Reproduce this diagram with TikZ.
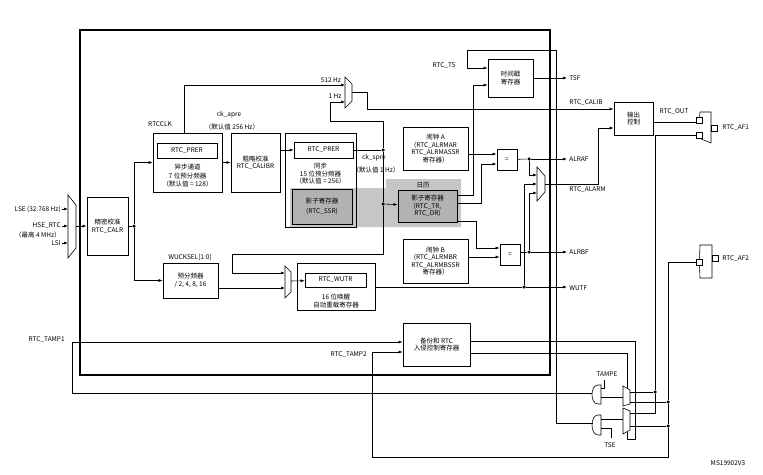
\documentclass[tikz,border=0pt]{standalone}
\usepackage{fontspec}
\setmainfont{Noto Sans CJK SC}
\usetikzlibrary{arrows.meta}

\tikzset{
  box/.style={draw=black, thick, fill=white, align=center, inner sep=0pt},
  inbox/.style={draw=black, fill=white, inner sep=0pt},
  shade/.style={draw=black, thick, fill=gray!60, align=center, inner sep=0pt},
  lbl/.style={font=\fontsize{6.5}{7.5}\selectfont, inner sep=1pt},
  arr/.style={-{Latex[length=4pt,width=3pt]}},
  jn/.style={circle, fill=black, inner sep=0pt, minimum size=3.5pt},
  pad/.style={draw=black, fill=white, minimum size=6pt, inner sep=0pt}
}

\begin{document}
\begin{tikzpicture}[x=1pt, y=-1pt, font=\fontsize{6.5}{7.5}\selectfont, every path/.style={line width=0.6pt}]
  \useasboundingbox (0,0) rectangle (763,474);
  % shaded band
  \fill[gray!45] (290,188) -- (386,188) -- (386,179) -- (461,179) -- (461,227) -- (290,227) -- cycle;
  \draw[line width=1.6pt] (80,30) rectangle (550,375);

  % boxes
  \node[box, minimum width=41pt, minimum height=58pt] (calr) at (107.5,226) {精密校准\\RTC\_CALR};
  \node[box, minimum width=69pt, minimum height=59pt] (async) at (187.5,162.5) {};
  \node[inbox, minimum width=60pt, minimum height=15pt] (prera) at (187,150.5) {RTC\_PRER};
  \node[lbl, align=center] at (187.5,176) {异步通道\\[1pt]7 位预分频器\\[1pt]（默认值 = 128）};
  \node[box, minimum width=49pt, minimum height=59pt] (calibr) at (255.5,162.5) {粗略校准\\RTC\_CALIBR};
  \node[box, fill=none, minimum width=71pt, minimum height=94pt] (sync) at (320.5,180) {};
  \node[inbox, minimum width=59pt, minimum height=16pt] (prers) at (323.5,150) {RTC\_PRER};
  \node[lbl, align=center] at (320.5,174) {同步\\15 位预分频器\\（默认值 = 256）};
  \node[shade, minimum width=60pt, minimum height=35pt] (ssr) at (322,206.5) {影子寄存器\\[2pt](RTC\_SSR)};
  \node[lbl] at (423,185) {日历};
  \node[shade, minimum width=59pt, minimum height=32pt] (cal) at (427.5,206) {影子寄存器\\(RTC\_TR,\\RTC\_DR)};
  \node[box, minimum width=65pt, minimum height=43pt] (alrma) at (435.5,148.5) {闹钟 A\\(RTC\_ALRMAR\\RTC\_ALRMASSR\\寄存器）};
  \node[box, minimum width=65pt, minimum height=44pt] (alrmb) at (435.5,261) {闹钟 B\\(RTC\_ALRMBR\\RTC\_ALRMBSSR\\寄存器）};
  \node[box, minimum width=20pt, minimum height=21pt] (eqa) at (507,159.5) {=};
  \node[box, minimum width=20pt, minimum height=21pt] (eqb) at (510,254.5) {=};
  \node[box, minimum width=45pt, minimum height=38pt] (ts) at (510.5,78) {时间戳\\寄存器};
  \node[box, minimum width=55pt, minimum height=35pt] (presc) at (190.5,280.5) {预分频器\\/ 2, 4, 8, 16};
  \node[box, minimum width=78pt, minimum height=47pt] (wutr) at (336,286.5) {};
  \node[inbox, minimum width=61pt, minimum height=14pt] (wutrin) at (335.5,280) {RTC\_WUTR};
  \node[lbl, align=center] at (336,301) {16 位唤醒\\自动重载寄存器};
  \node[box, minimum width=39pt, minimum height=33pt] (outctl) at (633.5,118.5) {输出\\控制};
  \node[box, minimum width=67pt, minimum height=43pt] (tamp) at (436.5,344.5) {备份和 RTC\\入侵控制寄存器};

  % multiplexers
  \draw[fill=white] (68,195) -- (76,205) -- (76,248) -- (68,258) -- cycle;
  \draw[fill=white] (345,77) -- (352,84) -- (352,101) -- (345,108) -- cycle;
  \draw[fill=white] (285,266) -- (291,272) -- (291,292) -- (285,298) -- cycle;
  \draw[fill=white] (537,167) -- (545,176) -- (545,192) -- (537,201) -- cycle;
  \draw[fill=white] (623,386) -- (630,390) -- (630,404) -- (623,406) -- cycle;
  \draw[fill=white] (623,408) -- (630,411) -- (630,430) -- (623,434) -- cycle;
  % gates
  \draw (601,385) -- (598,385) .. controls (590,385) and (590,404) .. (598,404) -- (601,404) -- cycle;
  \draw (601,415) -- (598,415) .. controls (590,415) and (590,435) .. (598,435) -- (601,435) -- cycle;

  % junctions
  \node[jn] (j1) at (134,226) {};
  \node[jn] (js1) at (383,150) {};
  \node[jn] (js2) at (383,204) {};
  \node[jn] (ja) at (529,159) {};
  \node[jn] (jb) at (529,252) {};
  \node[jn] (jw) at (524,287) {};
  \node[jn] (jo1) at (655,392) {};
  \node[jn] (jo2) at (668,402) {};
  \node[jn] (jo3) at (668,426) {};

  % inputs
  \node[lbl, anchor=east] (lse) at (62,209) {LSE (32.768 Hz)};
  \node[lbl, anchor=east] (hse) at (62,226) {HSE\_RTC};
  \node[lbl, anchor=east] at (62,235) {（最高 4 MHz）};
  \node[lbl, anchor=east] (lsi) at (62,243) {LSI};
  \draw[arr] (lse) -- (68,209);
  \draw[arr] (hse) -- (68,226);
  \draw[arr] (lsi) -- (68,243);
  \draw[arr] (76,226) -- (calr);

  % clock path
  \draw (calr) -- (j1);
  \draw[arr] (j1) |- (async);
  \draw[arr] (j1) |- (presc.west);
  \draw[arr] (async) -- (calibr);
  \draw[arr] (calibr.east |- prers.west) -- (prers);
  \draw[arr] ([xshift=-3.5pt]async.north) |- (345,85);
  \draw[arr] (js1) -- (383,121) -- (330,121) -- (330,102) -- (345,102);
  \draw (prers) -- (js1) -- (js2);
  \draw[arr] (js2) -- (cal);
  \draw[arr] (js2) -- (383,254) -- (232,254) -- (232,273) -- (285,273);
  \draw[arr] (presc.east |- 0,288) -- (285,288);
  \draw[arr] (291,281) -- (wutrin);
  \draw[arr] (352,92) -- (367,92) -- (367,109) -- (outctl.west |- 0,109);

  \node[lbl] at (331,80) {512 Hz};
  \node[lbl] at (335,96) {1 Hz};
  \node[lbl] at (160,124) {RTCCLK};
  \node[lbl] at (229,115) {ck\_apre};
  \node[lbl] at (232,127) {（默认值 256 Hz）};
  \node[lbl] at (374,158) {ck\_spre};
  \node[lbl] at (376,170) {（默认值 1 Hz）};
  \node[lbl] at (190,257) {WUCKSEL[1:0]};

  % alarm logic
  \draw[arr] (alrma.east |- 0,154) -- (eqa.west |- 0,154);
  \draw[arr] (cal.east |- 0,203) -- (481,203) -- (481,164) -- (eqa.west |- 0,164);
  \draw[arr] (cal.east |- 0,195) -- (473,195) -- (473,85) -- (ts.west |- 0,85);
  \draw[arr] (cal.east |- 0,221) -- (476,221) -- (476,248) -- (eqb.west |- 0,248);
  \draw[arr] (alrmb.east |- 0,257) -- (eqb.west |- 0,257);
  \draw (eqa) -- (ja);
  \draw (eqb.east |- jb) -- (jb);
  \draw[arr] (ja) -- (567,159);
  \draw[arr] (jb) -- (567,252);
  \draw[arr] (ja) |- (537,175);
  \draw[arr] (jb) |- (537,193);
  \draw (wutr.east |- jw) -- (jw);
  \draw[arr] (jw) -- (567,287);
  \draw[arr] (jw) |- (537,184);
  \draw[arr] (545,184) -- (598,184) -- (598,128) -- (outctl.west |- 0,128);
  \draw[arr] (ts) -- (567,78);

  \node[lbl, anchor=west] at (568,78) {TSF};
  \node[lbl, anchor=west] at (568,103) {RTC\_CALIB};
  \node[lbl, anchor=west] at (568,159) {ALRAF};
  \node[lbl, anchor=west] at (568,190) {RTC\_ALARM};
  \node[lbl, anchor=west] at (568,252) {ALRBF};
  \node[lbl, anchor=west] at (568,288) {WUTF};

  % time stamp input
  \node[lbl] (rtcts) at (444,66) {RTC\_TS};
  \draw[arr] (593,423) -- (556,423) -- (556,50) -- (467,50) -- (467,68) -- (ts.west |- 0,68);

  % output pins
  \node[pad] (p1) at (699.5,120) {};
  \node[pad] (p2) at (699.5,135) {};
  \node[pad] (p3) at (714,128) {};
  \draw (p1.north) -- (700,112) -| (711,143) -- (p2.south);
  \node[lbl, anchor=west] at (721,128) {RTC\_AF1};
  \node[pad] (p4) at (699.5,262) {};
  \node[pad] (p5) at (715,258) {};
  \draw (p4.north) -- (700,245) -| (712,278) -- (700,278) -- (p4.south);
  \node[lbl, anchor=west] at (721,259) {RTC\_AF2};
  \node[lbl] at (674,112) {RTC\_OUT};
  \draw (outctl.east |- 0,122) -- (p1.west |- 0,122);
  \draw (p2) -- (655,135) -- (jo1) -- (655,413) -- (630,413);
  \draw (jo1) -- (630,392);
  \draw (p4) -- (668,262) -- (jo2) -- (jo3) -- (668,457) -- (372,457) -- (372,352);
  \draw (jo2) -- (630,402);
  \draw (jo3) -- (630,426);

  % tamper
  \node[lbl, anchor=east] (tamp1) at (66,340) {RTC\_TAMP1};
  \node[lbl, anchor=east] (tamp2) at (368,355) {RTC\_TAMP2};
  \draw[arr] (72,342) -- (tamp.west |- 0,342);
  \draw (72,342) -- (72,393) -- (592,393);
  \draw[arr] (372,352) -- (tamp.west |- 0,352);
  \draw (tamp.east |- 0,341) -- (635,341) -- (635,439) -- (627,439) -- (627,432);
  \draw (tamp.east |- 0,353) -- (627,353) -- (627,388);
  \draw (601,397) -- (623,397);
  \draw (601,388) -- (604,388) -- (604,380);
  \draw (601,419) -- (623,419);
  \draw (601,428) -- (611,428) -- (611,438);
  \node[lbl] at (607,374) {TAMPE};
  \node[lbl] at (610,445) {TSE};
  \node[lbl] at (728,463) {MS19902V3};
\end{tikzpicture}
\end{document}
